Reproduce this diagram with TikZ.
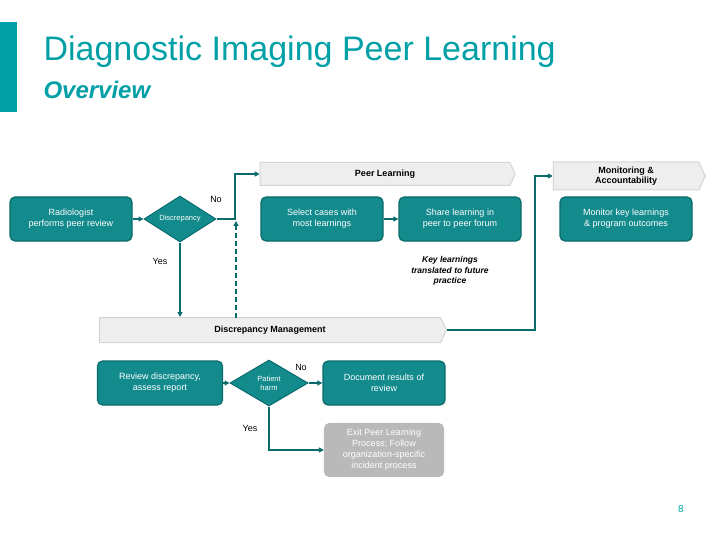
\documentclass[tikz,border=0pt]{standalone}
\usepackage{fontspec}
\setmainfont{Liberation Sans}
\usetikzlibrary{shapes.geometric,shapes.symbols,arrows.meta,positioning}
\definecolor{tealbox}{HTML}{138A8C}
\definecolor{tealedge}{HTML}{0B6B6D}
\definecolor{titleteal}{HTML}{00A0A6}
\definecolor{chevgray}{HTML}{EEEEEE}
\definecolor{chevedge}{HTML}{D4D4D4}
\tikzset{
  procbox/.style={rectangle, rounded corners=5pt, draw=tealedge, line width=1.2pt, fill=tealbox,
    text=white, align=center, font=\fontsize{9}{11}\selectfont, minimum width=122pt, minimum height=44pt},
  decide/.style={diamond, aspect=1.6, draw=tealedge, line width=1pt, fill=tealbox, text=white,
    align=center, font=\fontsize{7.5}{9}\selectfont, inner sep=0pt},
  chev/.style={signal, signal to=east, signal pointer angle=130, fill=chevgray, draw=chevedge, line width=1pt,
    font=\bfseries\fontsize{9}{10.5}\selectfont, align=center, inner sep=2pt},
  flow/.style={draw=tealedge, line width=1.3pt, -{Triangle[length=5pt,width=5pt]}},
  lbl/.style={font=\fontsize{9}{10}\selectfont}
}
\begin{document}
\begin{tikzpicture}[x=1pt,y=-1pt]
\useasboundingbox (0,0) rectangle (720,540);

% Title
\fill[titleteal] (0,22) rectangle (17,112);
\node[anchor=west, text=titleteal, font=\fontsize{34}{40}\selectfont] (title) at (40,52) {Diagnostic Imaging Peer Learning};
\node[anchor=west, text=titleteal, font=\bfseries\itshape\fontsize{24}{28}\selectfont] (sub) at (40,90) {Overview};

% Chevrons
\node[chev, minimum width=255pt, minimum height=23pt] (peer) at (385,174) {Peer Learning};
\node[chev, minimum width=152pt, minimum height=28pt] (mon) at (626,176) {Monitoring \&\\Accountability};
\node[chev, minimum width=347pt, minimum height=25pt] (dm) at (270,330) {Discrepancy Management};

% Top row
\node[procbox] (radio) at (71,219) {Radiologist\\performs peer review};
\node[decide, minimum width=72pt, minimum height=46pt] (disc) at (180,219) {Discrepancy};
\node[procbox] (select) at (322,219) {Select cases with\\most learnings};
\node[procbox] (share) at (460,219) {Share learning in\\peer to peer forum};
\node[procbox, minimum width=132pt] (monbox) at (626,219) {Monitor key learnings\\\& program outcomes};
\node[font=\bfseries\itshape\fontsize{8.5}{10.5}\selectfont, align=center] (key) at (450,271) {Key learnings\\translated to future\\practice};

% Bottom row
\node[procbox, minimum width=125pt] (review) at (160,383) {Review discrepancy,\\assess report};
\node[decide, minimum width=78pt, minimum height=46pt] (harm) at (269,383) {Patient\\harm};
\node[procbox] (doc) at (384,383) {Document results of\\review};
\node[procbox, fill=gray!55, draw=gray!55, minimum width=119pt, minimum height=53pt] (exit) at (384,450) {Exit Peer Learning\\Process; Follow\\organization-specific\\incident process};
\node[text=titleteal, font=\fontsize{10}{11}\selectfont] (page) at (681,509) {8};

% Connectors
\coordinate (j1) at (235,219);
\coordinate (j2) at (236,318);
\draw[flow] (radio) -- (disc);
\draw[flow] (disc.east) -- (j1) |- (peer.west);
\node[lbl] (no1) at (216,199) {No};
\draw[flow] (disc.south) -- (disc.south |- dm.north);
\node[lbl] (yes1) at (160,261) {Yes};
\draw[flow, dash pattern=on 5pt off 3pt, line width=1.6pt] (j2) -- (236,221);
\draw[flow] (select) -- (share);
\draw[flow] (dm.east) -| (535,200) |- (mon.west);
\draw[flow] (review) -- (harm);
\draw[flow] (harm) -- (doc);
\node[lbl] (no2) at (301,367) {No};
\draw[flow] (harm.south) |- (exit.west);
\node[lbl] (yes2) at (250,428) {Yes};
\end{tikzpicture}
\end{document}
